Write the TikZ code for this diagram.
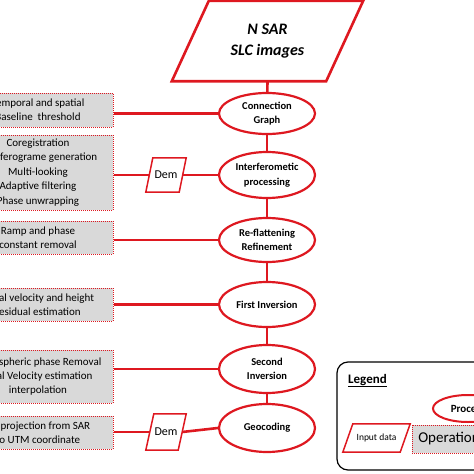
\documentclass[tikz,border=0pt]{standalone}
\usepackage{fontspec}
\setmainfont{Carlito}
\usetikzlibrary{shapes.geometric}
\definecolor{fred}{RGB}{222,24,32}
\definecolor{fgray}{RGB}{217,217,217}
\begin{document}
\begin{tikzpicture}[x=1pt,y=-1pt,
 proc/.style={ellipse, draw=fred, line width=2.2pt, fill=white, minimum width=96pt, inner sep=0pt, font=\fontsize{10.5}{14.5}\selectfont\bfseries, align=center},
 oper/.style={rectangle, draw=fred, densely dotted, line width=1pt, fill=fgray, minimum width=150pt, inner sep=0pt, font=\fontsize{11}{14.4}\selectfont, align=center},
 inbox/.style={rectangle, inner sep=0pt, align=center},
 paraline/.style={draw=fred, line width=1.5pt, line join=miter},
 conn/.style={draw=fred, line width=2.6pt}]
\useasboundingbox (0,0) rectangle (474,474);
\clip (0,0) rectangle (474,474);
% main flow
\node[inbox, minimum width=191pt, minimum height=80pt, font=\fontsize{16}{21}\selectfont\bfseries\itshape] (sar) at (267.5,41) {N SAR\\SLC images};
\draw[paraline, line width=2.6pt] ([xshift=37pt]sar.north west) -- (sar.north east) -- ([xshift=-37pt]sar.south east) -- (sar.south west) -- cycle;
\node[proc, minimum height=41pt] (cg) at (267,113.5) {Connection\\Graph};
\node[proc, minimum height=46pt] (ip) at (267,175) {Interferometic\\processing};
\node[proc, minimum height=44pt] (rf) at (267,240) {Re-flattening\\Refinement};
\node[proc, minimum height=45pt] (fi) at (267,304.5) {First Inversion};
\node[proc, minimum height=48pt] (si) at (267,369) {Second\\Inversion};
\node[proc, minimum height=48pt] (geo) at (267,428) {Geocoding};
% operations
\node[oper, minimum height=34pt] (b1) at (38,110) {Temporal and spatial\\Baseline\ \ threshold};
\node[oper, minimum height=75pt] (b2) at (38,172.5) {Coregistration\\Interferograme generation\\Multi-looking\\Adaptive filtering\\Phase unwrapping};
\node[oper, minimum height=33pt] (b3) at (38,237.5) {Ramp and phase\\constant removal};
\node[oper, minimum height=33pt] (b4) at (38,304.5) {Initial velocity and height\\residual estimation};
\node[oper, minimum height=53pt] (b5) at (38,376.5) {Atmospheric phase Removal\\Final Velocity estimation\\interpolation};
\node[oper, minimum height=33pt] (b6) at (38,432.5) {Re-projection from SAR\\to UTM coordinate};
% dem inputs
\node[inbox, minimum width=40pt, minimum height=34pt, font=\fontsize{12}{14}\selectfont] (dem1) at (166,175) {Dem};
\draw[paraline] ([xshift=7pt]dem1.north west) -- (dem1.north east) -- ([xshift=-7pt]dem1.south east) -- (dem1.south west) -- cycle;
\node[inbox, minimum width=40pt, minimum height=36pt, font=\fontsize{12}{14}\selectfont] (dem2) at (166,432) {Dem};
\draw[paraline] ([xshift=8pt]dem2.north west) -- (dem2.north east) -- ([xshift=-8pt]dem2.south east) -- (dem2.south west) -- cycle;
% connectors
\draw[conn] (sar.south) -- (cg);
\draw[conn] (cg) -- (ip);
\draw[conn] (ip) -- (rf);
\draw[conn] (rf) -- (fi);
\draw[conn] (fi) -- (si);
\draw[conn] (si) -- (geo);
\draw[conn] (cg.west) -- (cg.west -| b1.east);
\draw[conn] (ip.west) -- ([xshift=-3.5pt]dem1.east);
\draw[conn] ([xshift=3.5pt]dem1.west) -- (dem1.west -| b2.east);
\draw[conn] (rf.west) -- (rf.west -| b3.east);
\draw[conn] (fi.west) -- (fi.west -| b4.east);
\draw[conn] (si.west) -- (si.west -| b5.east);
\draw[conn] (geo.west) -- ([xshift=-4pt]dem2.east);
\draw[conn] ([xshift=4pt]dem2.west) -- (dem2.west -| b6.east);
% legend
\draw[black, line width=1.2pt, rounded corners=11pt] (337,362) rectangle (495,470);
\node[anchor=base west, inner sep=0pt, font=\fontsize{13}{15}\selectfont\bfseries] (lg) at (348,383) {\underline{Legend}};
\node[ellipse, draw=fred, line width=2pt, fill=white, minimum width=70pt, minimum height=27pt, inner sep=0pt, font=\fontsize{11}{13}\selectfont\bfseries] (lp) at (468,408.5) {Process};
\node[inbox, minimum width=67pt, minimum height=28pt, font=\fontsize{9.5}{12}\selectfont] (li) at (376.5,438) {Input data};
\draw[paraline] ([xshift=10pt]li.north west) -- (li.north east) -- ([xshift=-10pt]li.south east) -- (li.south west) -- cycle;
\node[oper, minimum width=74pt, minimum height=28pt, font=\fontsize{15}{17}\selectfont] (lo) at (449,439) {Operation};
\end{tikzpicture}
\end{document}
